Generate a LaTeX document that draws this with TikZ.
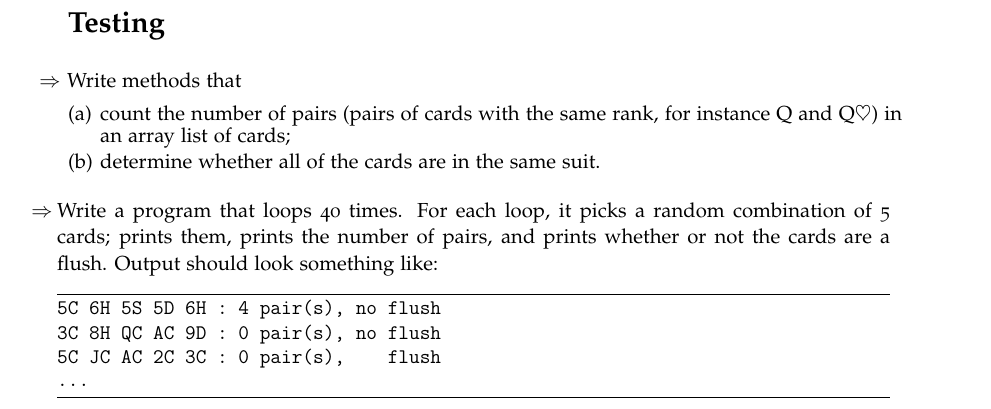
\documentclass[tikz,border=0pt]{standalone}
\usepackage[T1]{fontenc}
\usepackage[osf]{mathpazo}
\newcommand\mycodefont{\fontencoding{OT1}\fontfamily{cmtt}\fontsize{19.8}{24}\selectfont}
\begin{document}
\begin{tikzpicture}[x=1pt,y=-1pt,
  txt/.style={anchor=base west,inner sep=0pt,font=\fontsize{20.3}{22}\selectfont},
  para/.style={txt,anchor=north west,text width=#1,align=justify},
  code/.style={anchor=base west,inner sep=0pt,font=\mycodefont},
  rulel/.style={line width=1pt}]
\useasboundingbox (0,0) rectangle (991,409);
\node[txt,font=\fontsize{29}{32}\bfseries\selectfont] (title) at (68,33) {Testing};
\node[txt] (ar1) at (39,88) {$\Rightarrow$};
\node[txt] (w1) at (67,88) {Write methods that};
\node[txt] (la) at (68,121) {(a)};
\node[para=802pt,anchor=base west,font=\fontsize{20.3}{21.5}\selectfont] (ta) at (100,121) {count the number of pairs (pairs of cards with the same rank, for instance Q and Q$\heartsuit$) in an array list of cards;};
\node[txt] (lb) at (68,169) {(b)};
\node[txt] (tb) at (100,169) {determine whether all of the cards are in the same suit.};
\node[txt] (ar2) at (31,218) {$\Rightarrow$};
\node[para=833pt,anchor=base west,font=\fontsize{20.3}{26}\selectfont] (w2) at (57,218) {Write a program that loops 40 times. For each loop, it picks a random combination of 5 cards; prints them, prints the number of pairs, and prints whether or not the cards are a flush. Output should look something like:};
\coordinate (r1a) at (57,294); \coordinate (r1b) at (890,294);
\coordinate (r2a) at (57,397); \coordinate (r2b) at (890,397);
\draw[rulel] (r1a) -- (r1b);
\draw[rulel] (r2a) -- (r2b);
\node[code] (c1) at (57,314) {5C 6H 5S 5D 6H : 4 pair(s), no flush};
\node[code] (c2) at (57,339) {3C 8H QC AC 9D : 0 pair(s), no flush};
\node[code] (c3) at (57,363) {5C JC AC 2C 3C : 0 pair(s),\ \ \ \ flush};
\node[code] (c4) at (57,386) {...};
\end{tikzpicture}
\end{document}
